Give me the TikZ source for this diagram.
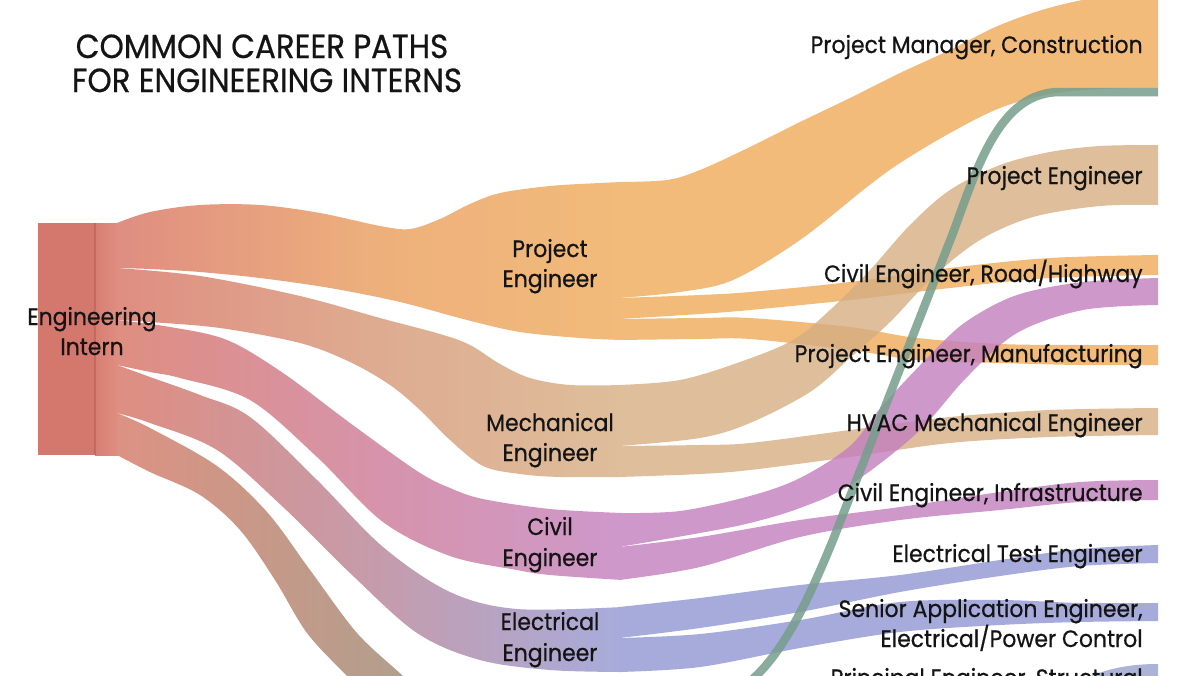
\documentclass[tikz,border=0pt]{standalone}
\usepackage{fontspec}
\setmainfont{Poppins}[FakeStretch=0.925,FakeBold=0.6]
\definecolor{ink}{RGB}{20,20,20}
\definecolor{srcR}{RGB}{212,119,109}
\definecolor{srcR2}{RGB}{216,126,115}
\definecolor{srcL}{RGB}{223,142,129}
\definecolor{srcLb}{RGB}{215,114,98}
\definecolor{srcLine}{RGB}{198,104,96}
\definecolor{orBase}{RGB}{239,170,89}
\definecolor{tanBase}{RGB}{214,174,130}
\definecolor{lilBase}{RGB}{195,127,190}
\definecolor{blueBase}{RGB}{146,151,211}
\definecolor{strL}{RGB}{221,146,131}
\definecolor{strR}{RGB}{172,160,142}
\definecolor{greenC}{RGB}{118,158,140}
\definecolor{prinC}{RGB}{150,160,205}
\begin{document}
\begin{tikzpicture}[x=0.02cm,y=-0.02cm,
  lbl/.style={font=\fontsize{13.5}{17}\selectfont,text=ink,inner sep=0pt},
  rlbl/.style={lbl,anchor=base east},
  mlbl/.style={lbl,anchor=base},
  ttl/.style={font=\fontsize{19}{22}\selectfont,text=ink,inner sep=0pt,anchor=base},
  family/.style={transparency group,opacity=0.8},
  sm/.style={smooth,tension=0.55}]
\useasboundingbox (0,0) rectangle (1200,676);
\clip (0,0) rectangle (1200,676);
\fill[white] (0,0) rectangle (1200,676);

% ---- Project Engineer family (orange)
\begin{scope}[family]
\path[left color=srcLb, right color=orBase, middle color=orBase!75!srcLb]
  plot[sm] coordinates {(117,223) (150,212) (200,205) (260,205) (320,213) (380,226) (410,229) (440,219) (470,204) (500,193) (550,186) (600,183) (622,182)}
  -- plot[sm] coordinates {(622,340) (580,338) (520,332) (467,320) (400,302) (330,288) (260,278) (200,272) (150,269) (117,268)} -- cycle;
\fill[orBase]
  plot[sm] coordinates {(619,182) (667,180) (700,170) (750,147) (800,122) (850,98) (900,73) (950,50) (1000,25) (1060,5) (1158,-15)}
  -- plot[sm] coordinates {(1158,88) (1100,89) (1050,94) (1000,108) (950,133) (900,163) (867,187) (800,240) (733,280) (680,292) (619,298)} -- cycle;
\fill[orBase]
  plot[sm] coordinates {(619,298) (700,295) (750,292) (850,282) (950,268) (1050,258) (1158,255)}
  -- plot[sm] coordinates {(1158,275) (1050,278) (950,288) (850,300) (750,310) (700,314) (619,319)} -- cycle;
\fill[orBase]
  plot[sm] coordinates {(619,319) (700,318) (750,318) (850,327) (917,338) (1000,344) (1080,345) (1158,345)}
  -- plot[sm] coordinates {(1158,365) (1080,365) (1000,363) (917,360) (850,350) (750,339) (700,339) (619,340)} -- cycle;
\end{scope}

% ---- Mechanical Engineer family (tan)
\begin{scope}[family]
\path[left color=srcLb, right color=tanBase, middle color=tanBase!60!srcLb]
  plot[sm] coordinates {(117,268) (200,276) (300,296) (380,318) (440,334) (470,345) (500,364) (530,378) (570,385) (622,385)}
  -- plot[sm] coordinates {(622,477) (560,477) (520,474) (483,466) (450,440) (420,410) (390,385) (350,362) (300,343) (220,328) (150,322) (117,320)} -- cycle;
\fill[tanBase]
  plot[sm] coordinates {(619,385) (680,380) (740,362) (793,340) (830,310) (870,270) (910,225) (950,190) (1000,165) (1050,152) (1100,146) (1158,145)}
  -- plot[sm] coordinates {(1158,205) (1100,206) (1033,217) (980,240) (933,277) (890,322) (850,358) (810,392) (750,423) (700,438) (619,446)} -- cycle;
\fill[tanBase]
  plot[sm] coordinates {(619,446) (700,445) (750,443) (850,430) (950,417) (1050,410) (1158,408)}
  -- plot[sm] coordinates {(1158,435) (1050,437) (950,443) (850,457) (750,470) (700,474) (619,477)} -- cycle;
\end{scope}

% ---- Civil Engineer family (pink / lilac)
\begin{scope}[family]
\path[left color=srcLb, right color=lilBase, middle color=lilBase!55!srcLb]
  plot[sm] coordinates {(117,320) (170,327) (227,340) (283,373) (350,423) (417,471) (450,488) (483,499) (550,509) (622,513)}
  -- plot[sm] coordinates {(622,580) (550,575) (517,570) (450,556) (383,522) (317,457) (250,400) (180,378) (150,372) (117,365)} -- cycle;
\fill[lilBase]
  plot[sm] coordinates {(619,513) (680,511) (750,496) (800,478) (850,446) (883,405) (933,352) (967,321) (1017,295) (1083,282) (1158,278)}
  -- plot[sm] coordinates {(1158,305) (1083,310) (1017,333) (967,377) (917,433) (850,485) (800,508) (750,523) (700,533) (619,547)} -- cycle;
\fill[lilBase]
  plot[sm] coordinates {(619,547) (700,537) (800,520) (900,507) (1000,492) (1080,482) (1158,480)}
  -- plot[sm] coordinates {(1158,500) (1080,502) (1000,510) (900,520) (800,537) (700,567) (619,580)} -- cycle;
\end{scope}

% ---- Electrical Engineer family (blue)
\begin{scope}[family]
\path[left color=srcLb, right color=blueBase, middle color=blueBase!45!srcLb]
  plot[sm] coordinates {(117,365) (150,377) (200,395) (250,417) (317,480) (383,547) (450,592) (517,609) (622,607)}
  -- plot[sm] coordinates {(622,672) (550,670) (480,660) (417,633) (350,573) (283,507) (217,450) (150,423) (117,413)} -- cycle;
\fill[blueBase]
  plot[sm] coordinates {(619,607) (700,598) (800,585) (900,575) (1000,560) (1080,549) (1158,545)}
  -- plot[sm] coordinates {(1158,563) (1080,566) (1000,576) (900,592) (800,612) (700,628) (619,638)} -- cycle;
\fill[blueBase]
  plot[sm] coordinates {(619,638) (700,634) (800,620) (900,602) (1000,600) (1080,603) (1158,603)}
  -- plot[sm] coordinates {(1158,621) (1080,622) (1000,625) (900,632) (800,648) (700,667) (619,672)} -- cycle;
\end{scope}

% ---- Structural family
\path[left color=strL, right color=strR]
  plot[sm] coordinates {(117,413) (150,428) (217,466) (267,512) (310,570) (357,633) (403,676) (440,712)}
  -- plot[sm] coordinates {(400,730) (347,676) (307,633) (275,580) (240,530) (200,495) (150,472) (117,455)} -- cycle;
\fill[prinC,fill opacity=0.8] (960,720) .. controls (1060,720) and (1060,664) .. (1158,664) -- (1158,692) .. controls (1080,692) and (1080,745) .. (980,745) -- cycle;
\draw[greenC, line width=0.17cm, draw opacity=0.85]
  (720,700) .. controls (770,680) and (800,620) .. (833,540) -- (953,233)
  .. controls (978,165) and (1000,92) .. (1060,92) -- (1158,92);

% ---- source node
\fill[srcR] (38,223) rectangle (95,455);
\shade[left color=srcR2, right color=srcL] (95,223) rectangle (118,455);
\draw[srcLine, line width=0.03cm] (95,223) -- (95,455);

% ---- labels
\node[ttl] (t1) at (262,58) {COMMON CAREER PATHS};
\node[ttl] (t2) at (267,92) {FOR ENGINEERING INTERNS};
\node[mlbl] (src1) at (92,325) {Engineering};
\node[mlbl] (src2) at (92,355) {Intern};
\node[mlbl] (pe1) at (550,257) {Project};
\node[mlbl] (pe2) at (550,287) {Engineer};
\node[mlbl] (me1) at (550,431) {Mechanical};
\node[mlbl] (me2) at (550,461) {Engineer};
\node[mlbl] (ce1) at (550,535) {Civil};
\node[mlbl] (ce2) at (550,566) {Engineer};
\node[mlbl] (ee1) at (550,630) {Electrical};
\node[mlbl] (ee2) at (550,661) {Engineer};
\node[rlbl] (r1) at (1143,53) {Project Manager, Construction};
\node[rlbl] (r2) at (1143,184) {Project Engineer};
\node[rlbl] (r3) at (1143,282) {Civil Engineer, Road/Highway};
\node[rlbl] (r4) at (1143,362) {Project Engineer, Manufacturing};
\node[rlbl] (r5) at (1143,431) {HVAC Mechanical Engineer};
\node[rlbl] (r6) at (1143,501) {Civil Engineer, Infrastructure};
\node[rlbl] (r7) at (1143,562) {Electrical Test Engineer};
\node[rlbl] (r8a) at (1143,617) {Senior Application Engineer,};
\node[rlbl] (r8b) at (1143,647) {Electrical/Power Control};
\node[rlbl] (r9) at (1143,686) {Principal Engineer, Structural};
\end{tikzpicture}
\end{document}
